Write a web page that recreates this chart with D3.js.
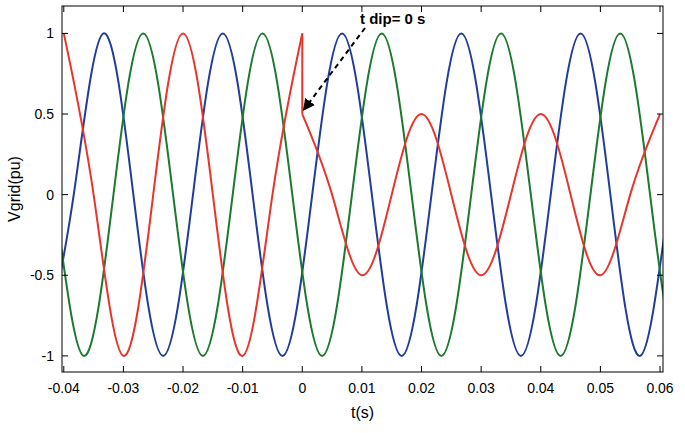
<!DOCTYPE html><html><head><script src="https://cdn.jsdelivr.net/npm/d3@7"></script>
<style>body{margin:0;background:#fff}text{font-family:Arial,"Liberation Sans",sans-serif}</style></head><body><svg width="685" height="433"></svg>
<script>
const xTicks=[-0.04,-0.03,-0.02,-0.01,0,0.01,0.02,0.03,0.04,0.05,0.06];
const yTicks=[-1,-0.5,0,0.5,1];
const step=0.005;
const redPreStart=-0.04, redPre=[1,0,-1,0,1,0,-1,0,1];
const redPostStart=0, redPost=[0.5,0,-0.5,0,0.5,0,-0.5,0,0.5,0,-0.5,0,0.5];
const blueStart=-0.04333, blue=[-1,0,1,0,-1,0,1,0,-1,0,1,0,-1,0,1,0,-1,0,1,0,-1,0,1];
const greenStart=-0.04667, green=[1,0,-1,0,1,0,-1,0,1,0,-1,0,1,0,-1,0,1,0,-1,0,1,0,-1,0];
const svg=d3.select("svg");
const L=62,R=663,T=6,B=372;
const x=d3.scaleLinear().domain([-0.0403,0.0605]).range([L,R]);
const y=d3.scaleLinear().domain([-1.1,1.17]).range([B,T]);
svg.append("defs").append("clipPath").attr("id","c").append("rect").attr("x",L).attr("y",T).attr("width",R-L).attr("height",B-T);
const pts=(s,v)=>v.map((d,i)=>[s+i*step,d]);
const line=d3.line().x(d=>x(d[0])).y(d=>y(d[1])).curve(d3.curveNatural);
const g=svg.append("g").attr("clip-path","url(#c)");
[[pts(blueStart,blue),"#1f3d9c"],[pts(greenStart,green),"#1b7a2c"],[pts(redPreStart,redPre),"#e8352c"],[pts(redPostStart,redPost),"#e8352c"]]
.forEach(([d,c])=>g.append("path").attr("d",line(d)).attr("fill","none").attr("stroke",c).attr("stroke-width",2));
g.append("line").attr("x1",x(0)).attr("x2",x(0)).attr("y1",y(1)).attr("y2",y(0.5)).attr("stroke","#e8352c").attr("stroke-width",2);
svg.append("rect").attr("x",L).attr("y",T).attr("width",R-L).attr("height",B-T).attr("fill","none").attr("stroke","#000");
xTicks.forEach(t=>{svg.append("line").attr("x1",x(t)).attr("x2",x(t)).attr("y1",B).attr("y2",B-6).attr("stroke","#000");
svg.append("line").attr("x1",x(t)).attr("x2",x(t)).attr("y1",T).attr("y2",T+6).attr("stroke","#000");
svg.append("text").attr("x",x(t)).attr("y",B+21).attr("text-anchor","middle").attr("font-size",14).text(t);});
yTicks.forEach(t=>{svg.append("line").attr("x1",L).attr("x2",L+6).attr("y1",y(t)).attr("y2",y(t)).attr("stroke","#000");
svg.append("line").attr("x1",R).attr("x2",R-6).attr("y1",y(t)).attr("y2",y(t)).attr("stroke","#000");
svg.append("text").attr("x",L-8).attr("y",y(t)+5).attr("text-anchor","end").attr("font-size",14).text(t);});
svg.append("text").attr("x",(L+R)/2).attr("y",418).attr("text-anchor","middle").attr("font-size",16).text("t(s)");
svg.append("text").attr("transform",`translate(20,${(T+B)/2}) rotate(-90)`).attr("text-anchor","middle").attr("font-size",16).text("Vgrid(pu)");
svg.append("defs").append("marker").attr("id","a").attr("viewBox","0 0 10 10").attr("refX",8).attr("refY",5).attr("markerWidth",6).attr("markerHeight",6).attr("orient","auto").append("path").attr("d","M0,0L10,5L0,10z").attr("fill","#000");
svg.append("line").attr("x1",365).attr("y1",28).attr("x2",x(0)+2).attr("y2",y(0.53)).attr("stroke","#000").attr("stroke-width",2).attr("stroke-dasharray","5,4").attr("marker-end","url(#a)");
svg.append("text").attr("x",360).attr("y",24).attr("font-size",15).attr("font-weight","bold").text("t dip= 0 s");
</script></body></html>
